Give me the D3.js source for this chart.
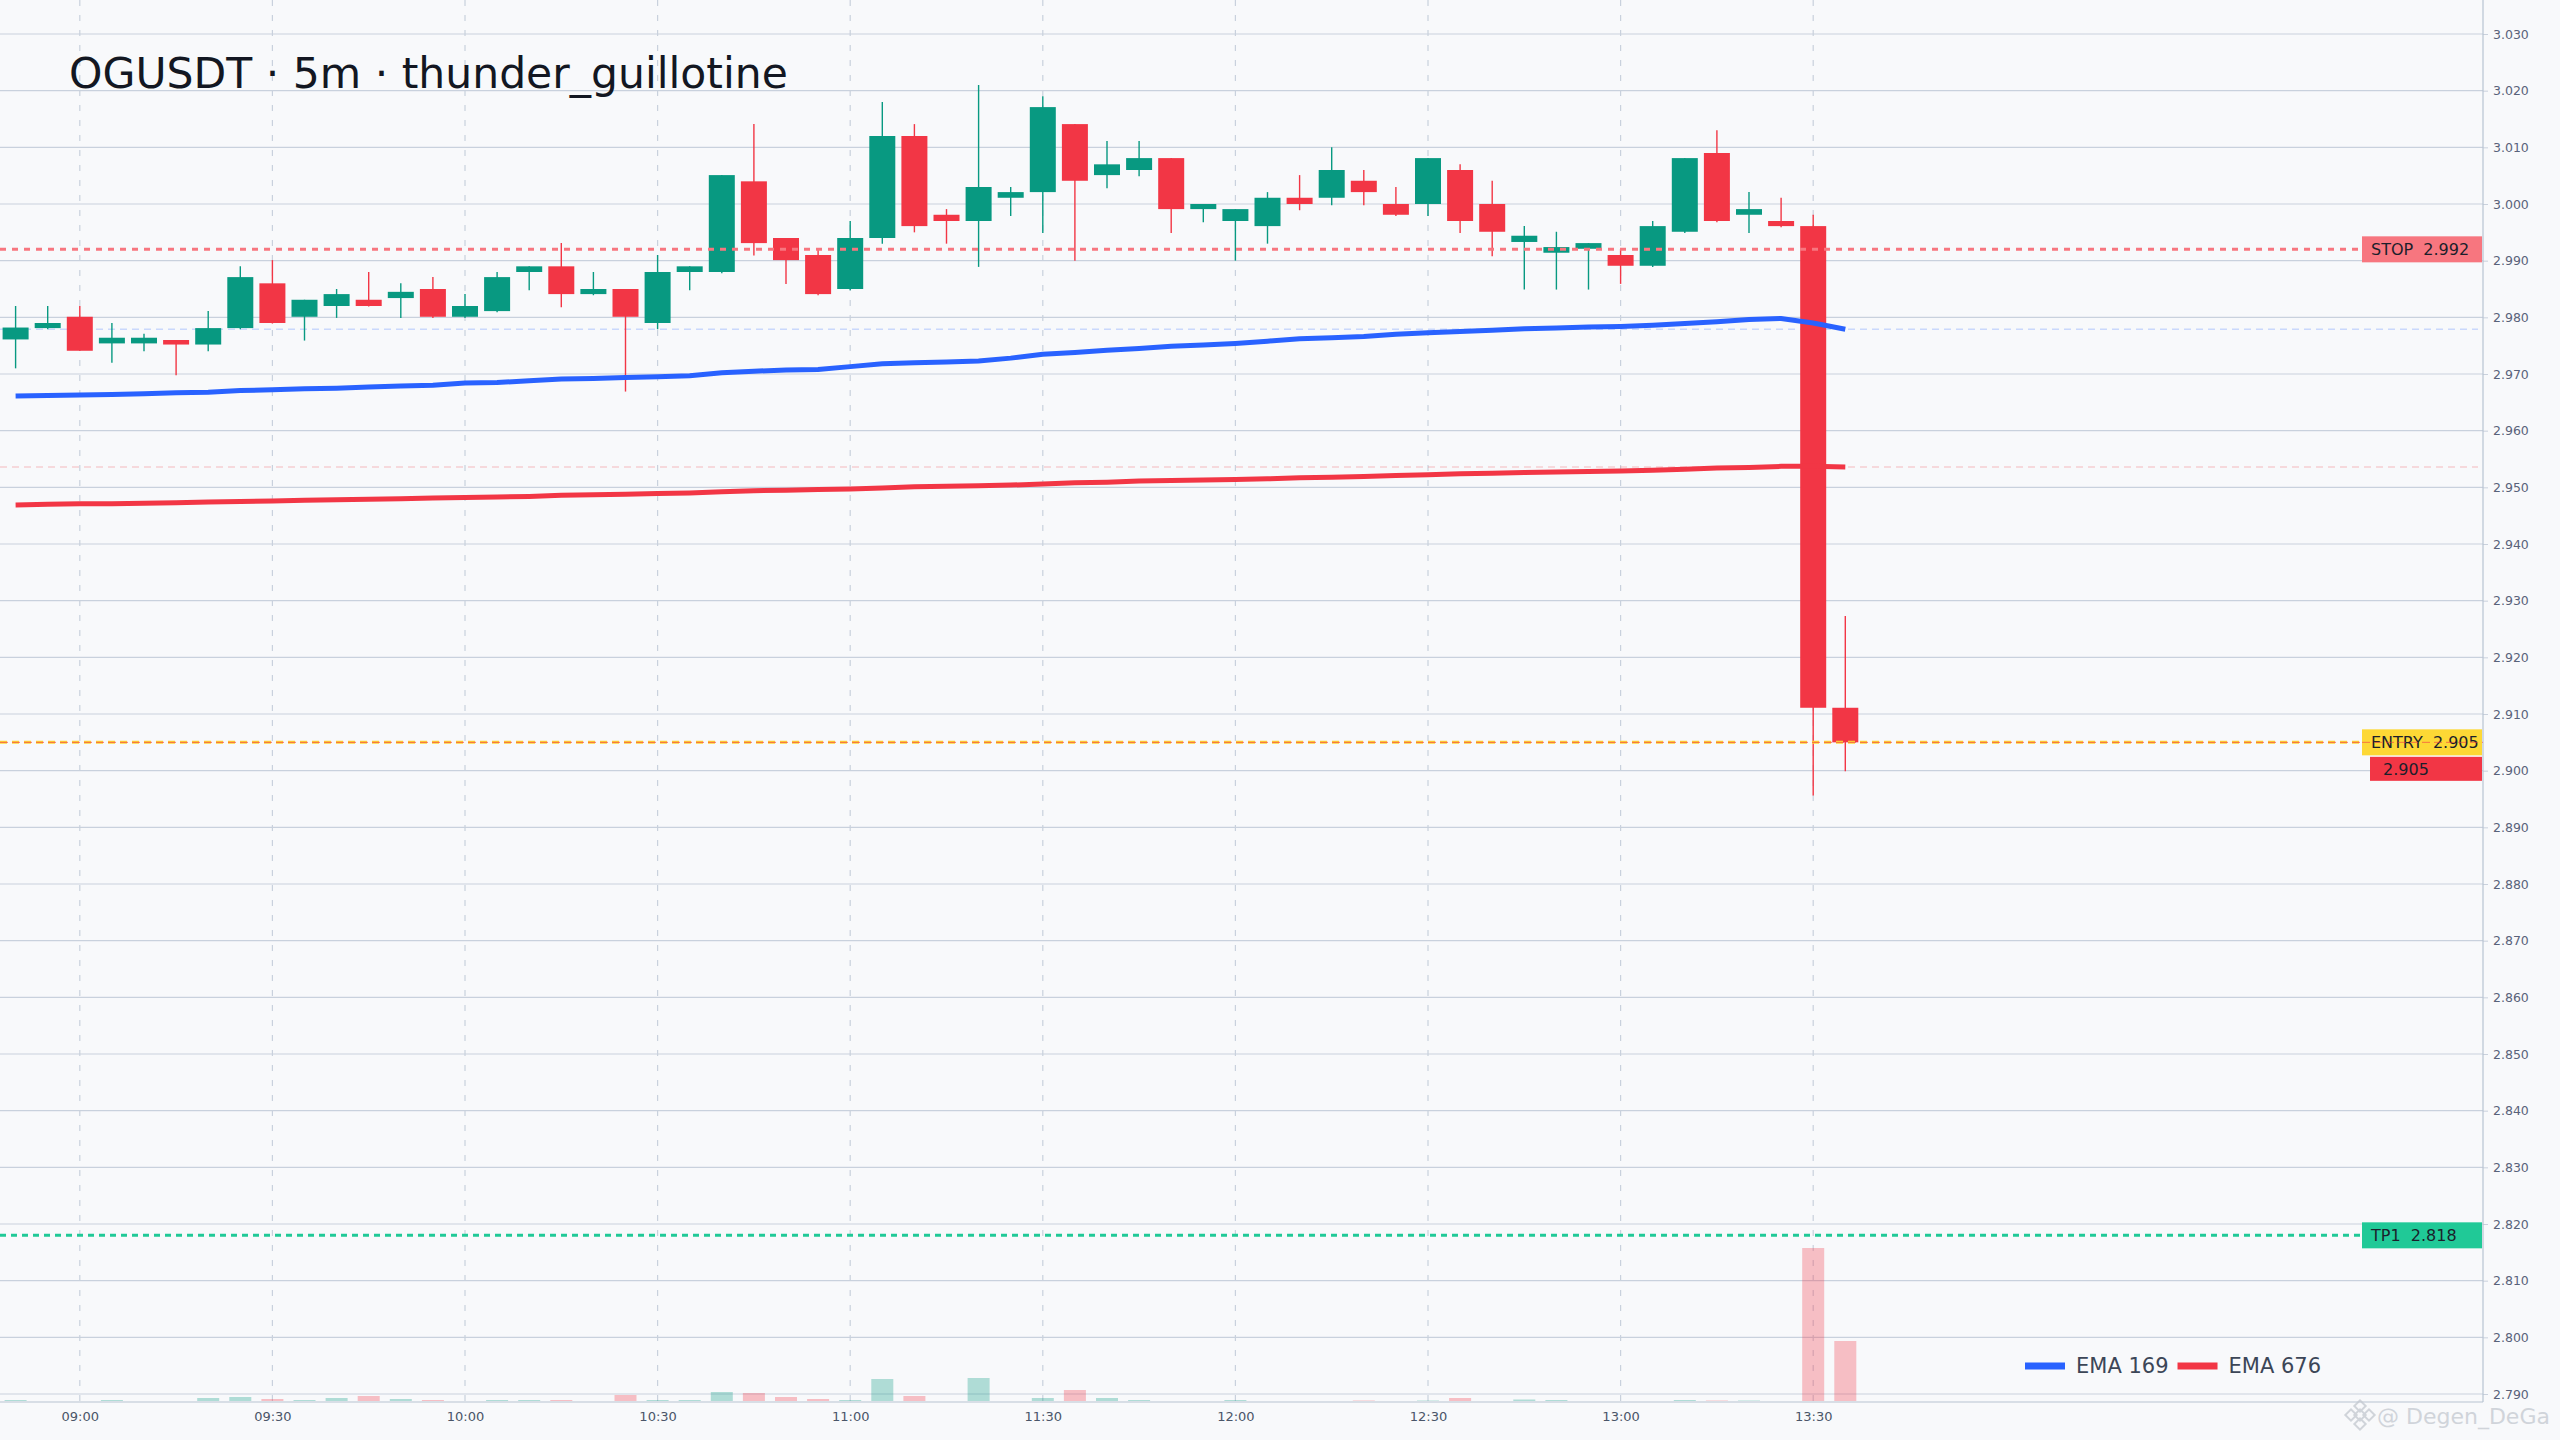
<!DOCTYPE html>
<html>
<head>
<meta charset="utf-8">
<script src="https://cdn.jsdelivr.net/npm/d3@7"></script>
<style>
  body { margin: 0; background: #f8f9fb; }
  svg { display: block; }
</style>
</head>
<body>
<div id="chart"></div>
<script>
// candle times (5m)
var times = ["08:50","08:55","09:00","09:05","09:10","09:15","09:20","09:25","09:30","09:35",
             "09:40","09:45","09:50","09:55","10:00","10:05","10:10","10:15","10:20","10:25",
             "10:30","10:35","10:40","10:45","10:50","10:55","11:00","11:05","11:10","11:15",
             "11:20","11:25","11:30","11:35","11:40","11:45","11:50","11:55","12:00","12:05",
             "12:10","12:15","12:20","12:25","12:30","12:35","12:40","12:45","12:50","12:55",
             "13:00","13:05","13:10","13:15","13:20","13:25","13:30","13:35"];

var opens  = [2.9761,2.9781,2.9801,2.9754,2.9754,2.9760,2.9752,2.9781,2.9860,2.9801,
              2.9820,2.9831,2.9834,2.9850,2.9801,2.9811,2.9880,2.9890,2.9841,2.9850,
              2.9790,2.9880,2.9880,3.0040,2.9940,2.9910,2.9850,2.9940,3.0120,2.9981,
              2.9970,3.0011,3.0021,3.0141,3.0051,3.0060,3.0081,2.9991,2.9970,2.9961,
              3.0011,3.0011,3.0041,3.0000,3.0000,3.0060,3.0000,2.9933,2.9914,2.9921,
              2.9910,2.9891,2.9951,3.0090,2.9981,2.9970,2.9961,2.9111];
var highs  = [2.9820,2.9820,2.9820,2.9790,2.9771,2.9760,2.9811,2.9890,2.9901,2.9831,
              2.9850,2.9880,2.9860,2.9871,2.9841,2.9880,2.9890,2.9931,2.9880,2.9850,
              2.9910,2.9890,3.0051,3.0141,2.9940,2.9921,2.9970,3.0180,3.0141,2.9991,
              3.0210,3.0030,3.0190,3.0141,3.0111,3.0111,3.0081,3.0000,2.9991,3.0021,
              3.0051,3.0100,3.0060,3.0030,3.0081,3.0070,3.0041,2.9961,2.9951,2.9931,
              2.9921,2.9970,3.0081,3.0130,3.0021,3.0011,2.9981,2.9273];
var lows   = [2.9710,2.9779,2.9741,2.9720,2.9740,2.9698,2.9740,2.9779,2.9789,2.9759,
              2.9799,2.9819,2.9799,2.9799,2.9799,2.9809,2.9848,2.9818,2.9839,2.9669,
              2.9779,2.9848,2.9878,2.9909,2.9859,2.9839,2.9848,2.9930,2.9950,2.9930,
              2.9889,2.9979,2.9949,2.9900,3.0028,3.0049,2.9949,2.9968,2.9900,2.9930,
              2.9989,2.9998,2.9998,2.9979,2.9979,2.9949,2.9908,2.9849,2.9849,2.9849,
              2.9859,2.9889,2.9949,2.9968,2.9949,2.9959,2.8956,2.8999];
var closes = [2.9782,2.9790,2.9741,2.9764,2.9764,2.9752,2.9781,2.9871,2.9790,2.9831,
              2.9841,2.9820,2.9845,2.9801,2.9820,2.9871,2.9890,2.9841,2.9850,2.9801,
              2.9880,2.9890,3.0051,2.9931,2.9901,2.9841,2.9940,3.0120,2.9961,2.9970,
              3.0030,3.0021,3.0171,3.0041,3.0070,3.0081,2.9991,3.0000,2.9991,3.0011,
              3.0000,3.0060,3.0021,2.9981,3.0081,2.9970,2.9951,2.9944,2.9924,2.9931,
              2.9891,2.9961,3.0081,2.9970,2.9991,2.9961,2.9111,2.9050];
var volumes = [10,0,0,10,0,0,30,40,20,10,
               30,50,20,10,0,10,10,10,0,60,
               10,10,90,80,40,20,10,220,50,0,
               230,0,30,110,30,10,0,0,10,0,
               0,0,5,0,5,30,0,15,10,0,
               0,0,10,5,5,0,1530,600];

var ema169 = [2.9661,2.9662,2.9663,2.9664,2.9665,2.9667,2.9668,2.9671,2.9672,2.9674,
              2.9675,2.9677,2.9679,2.9680,2.9684,2.9685,2.9688,2.9691,2.9692,2.9694,
              2.9695,2.9697,2.9702,2.9705,2.9707,2.9708,2.9713,2.9718,2.9720,2.9721,
              2.9723,2.9728,2.9735,2.9738,2.9742,2.9745,2.9749,2.9751,2.9754,2.9758,
              2.9762,2.9764,2.9766,2.9770,2.9773,2.9775,2.9777,2.9780,2.9781,2.9783,
              2.9784,2.9786,2.9789,2.9792,2.9796,2.9798,2.9790,2.9779];
var ema676 = [2.9469,2.9470,2.9471,2.9471,2.9472,2.9473,2.9474,2.9475,2.9476,2.9477,
              2.9478,2.9479,2.9480,2.9481,2.9482,2.9483,2.9484,2.9486,2.9487,2.9488,
              2.9489,2.9490,2.9492,2.9494,2.9495,2.9496,2.9497,2.9499,2.9501,2.9502,
              2.9503,2.9504,2.9506,2.9508,2.9509,2.9511,2.9512,2.9513,2.9514,2.9515,
              2.9517,2.9518,2.9519,2.9521,2.9522,2.9524,2.9525,2.9526,2.9527,2.9528,
              2.9529,2.9530,2.9532,2.9534,2.9535,2.9537,2.9537,2.9536];

var xTicks = ["09:00","09:30","10:00","10:30","11:00","11:30","12:00","12:30","13:00","13:30"];
var yTicks = [2.790,2.800,2.810,2.820,2.830,2.840,2.850,2.860,2.870,2.880,2.890,2.900,
              2.910,2.920,2.930,2.940,2.950,2.960,2.970,2.980,2.990,3.000,3.010,3.020,3.030];

// trade levels
var levels = [
    {name: "STOP",  value: 2.992, color: "#f7767f", dash: "6,6"},
    {name: "TP1",   value: 2.818, color: "#20c997", dash: "6,5"},
    {name: "ENTRY", value: 2.905, color: "#fdd835", dash: "7,5"}
];
var lastPrice = 2.905;

var W = 2560, H = 1440;
var plotRight = 2483, plotBottom = 1402;
var green = "#089981", red = "#f23645";

var parse = d3.timeParse("%H:%M");
var data = times.map(function(t, i) {
    return {t: parse(t), o: opens[i], h: highs[i], l: lows[i], c: closes[i], v: volumes[i]};
});

var svg = d3.select("#chart").append("svg")
    .attr("width", W)
    .attr("height", H)
    .style("font-family", "'DejaVu Sans', sans-serif");

svg.append("rect").attr("width", W).attr("height", H).attr("fill", "#f8f9fb");

// scales
var step = 32.1;
var x = d3.scaleTime()
    .domain([data[0].t, data[data.length - 1].t])
    .range([15.6, 15.6 + (data.length - 1) * step]);
var y = d3.scaleLinear().domain([2.790, 3.030]).range([1394, 34]);
var vh = d3.scaleLinear().domain([0, d3.max(volumes)]).range([0, 153]);

// grid
svg.append("g").selectAll("line").data(yTicks).enter().append("line")
    .attr("x1", 0).attr("x2", plotRight)
    .attr("y1", function(d) { return y(d); }).attr("y2", function(d) { return y(d); })
    .attr("stroke", "#c9d1dd").attr("stroke-width", 1.2);

svg.append("g").selectAll("line").data(xTicks).enter().append("line")
    .attr("x1", function(d) { return x(parse(d)); }).attr("x2", function(d) { return x(parse(d)); })
    .attr("y1", 0).attr("y2", plotBottom)
    .attr("stroke", "#c9d1dd").attr("stroke-width", 1.2)
    .attr("stroke-dasharray", "6,9");

// axes
var yAxis = svg.append("g")
    .attr("transform", "translate(" + plotRight + ",0)")
    .call(d3.axisRight(y).tickValues(yTicks).tickFormat(d3.format(".3f")).tickSize(5).tickPadding(5));
yAxis.select(".domain").remove();
yAxis.selectAll("line").attr("stroke", "#c9d1dd");
yAxis.selectAll("text").attr("fill", "#59627a").style("font-size", "12.5px")
    .style("font-family", "'DejaVu Sans', sans-serif");

svg.append("line")
    .attr("x1", plotRight).attr("x2", plotRight).attr("y1", 0).attr("y2", plotBottom)
    .attr("stroke", "#b8c3d2").attr("stroke-width", 1.2);

var xAxis = svg.append("g")
    .attr("transform", "translate(0," + plotBottom + ")")
    .call(d3.axisBottom(x).tickValues(xTicks.map(parse)).tickFormat(d3.timeFormat("%H:%M"))
        .tickSize(0).tickPadding(10));
xAxis.select(".domain").remove();
xAxis.selectAll("text").attr("fill", "#4a5568").style("font-size", "13px")
    .style("font-family", "'DejaVu Sans', sans-serif");

svg.append("line")
    .attr("x1", 0).attr("x2", plotRight).attr("y1", plotBottom).attr("y2", plotBottom)
    .attr("stroke", "#b8c3d2").attr("stroke-width", 1.2);

// volume
svg.append("g").selectAll("rect").data(data.filter(function(d) { return d.v > 0; })).enter().append("rect")
    .attr("x", function(d) { return x(d.t) - 11; })
    .attr("width", 22)
    .attr("y", function(d) { return plotBottom - 1 - vh(d.v); })
    .attr("height", function(d) { return vh(d.v); })
    .attr("fill", function(d) { return d.c >= d.o ? green : red; })
    .attr("fill-opacity", 0.3);

// ema last value lines
[{v: ema169, c: "#2962ff"}, {v: ema676, c: red}].forEach(function(e) {
    var last = e.v[e.v.length - 1];
    svg.append("line")
        .attr("x1", 0).attr("x2", plotRight - 5)
        .attr("y1", y(last)).attr("y2", y(last))
        .attr("stroke", e.c).attr("stroke-opacity", 0.22)
        .attr("stroke-width", 1.5).attr("stroke-dasharray", "7,5");
});

// candles
var candles = svg.append("g").selectAll("g").data(data).enter().append("g");
candles.append("line")
    .attr("x1", function(d) { return x(d.t); }).attr("x2", function(d) { return x(d.t); })
    .attr("y1", function(d) { return y(d.h); }).attr("y2", function(d) { return y(d.l); })
    .attr("stroke", function(d) { return d.c >= d.o ? green : red; })
    .attr("stroke-width", 1.4);
candles.append("rect")
    .attr("x", function(d) { return x(d.t) - 13; })
    .attr("width", 26)
    .attr("y", function(d) { return y(Math.max(d.o, d.c)); })
    .attr("height", function(d) { return Math.max(2, Math.abs(y(d.o) - y(d.c))); })
    .attr("fill", function(d) { return d.c >= d.o ? green : red; });

// EMA lines
var line = d3.line()
    .x(function(d, i) { return x(data[i].t); })
    .y(function(d) { return y(d); });
svg.append("path").datum(ema676).attr("d", line)
    .attr("fill", "none").attr("stroke", red).attr("stroke-width", 5);
svg.append("path").datum(ema169).attr("d", line)
    .attr("fill", "none").attr("stroke", "#2962ff").attr("stroke-width", 5);

// level lines
levels.forEach(function(l) {
    svg.append("line")
        .attr("x1", 0).attr("x2", 2362)
        .attr("y1", y(l.value)).attr("y2", y(l.value))
        .attr("stroke", l.color).attr("stroke-width", 3)
        .attr("stroke-dasharray", l.dash);
});
// current price line
svg.append("line")
    .attr("x1", 0).attr("x2", plotRight)
    .attr("y1", y(lastPrice)).attr("y2", y(lastPrice))
    .attr("stroke", red).attr("stroke-opacity", 0.7).attr("stroke-width", 1)
    .attr("stroke-dasharray", "8,4");

// level labels
levels.forEach(function(l) {
    var g = svg.append("g");
    g.append("rect")
        .attr("x", 2362).attr("width", plotRight - 1 - 2362)
        .attr("y", y(l.value) - 13).attr("height", 26)
        .attr("fill", l.color);
    g.append("text")
        .attr("x", 2371).attr("y", y(l.value))
        .attr("dy", "0.36em")
        .attr("fill", "#1b1f2b").style("font-size", "16px")
        .attr("xml:space", "preserve")
        .text(l.name + "  " + d3.format(".3f")(l.value));
});
// price line overlays the entry label
svg.append("line")
    .attr("x1", 2362).attr("x2", plotRight)
    .attr("y1", y(lastPrice)).attr("y2", y(lastPrice))
    .attr("stroke", red).attr("stroke-opacity", 0.6).attr("stroke-width", 1)
    .attr("stroke-dasharray", "8,4");

// last price tag sits below the entry tag
svg.append("rect")
    .attr("x", 2370).attr("width", plotRight - 1 - 2370)
    .attr("y", y(lastPrice) + 14.5).attr("height", 24)
    .attr("fill", red);
svg.append("text")
    .attr("x", 2383).attr("y", y(lastPrice) + 26.5)
    .attr("dy", "0.36em")
    .attr("fill", "#1b1f2b").style("font-size", "16px")
    .text(d3.format(".3f")(lastPrice));

// title
svg.append("text")
    .attr("x", 69).attr("y", 88)
    .attr("fill", "#131722").style("font-size", "42.5px")
    .text("OGUSDT · 5m · thunder_guillotine");

// legend
var legend = [{name: "EMA 169", color: "#2962ff"}, {name: "EMA 676", color: red}];
var lg = svg.append("g").attr("transform", "translate(2025,1366)");
var lx = 0;
legend.forEach(function(d) {
    lg.append("rect").attr("x", lx).attr("y", -3.5).attr("width", 40).attr("height", 7).attr("fill", d.color);
    var t = lg.append("text").attr("x", lx + 51).attr("y", 0).attr("dy", "0.35em")
        .attr("fill", "#3c4657").style("font-size", "21px").text(d.name);
    lx += 51 + t.node().getComputedTextLength() + 9;
});

// watermark
var wm = svg.append("g").attr("opacity", 0.75);
var logo = wm.append("g").attr("transform", "translate(2360,1415)")
    .attr("fill", "none").attr("stroke", "#c3c8d0").attr("stroke-width", 2);
[[0, -9], [-9, 0], [9, 0], [0, 9], [0, 0]].forEach(function(p) {
    logo.append("rect").attr("x", p[0] - 4).attr("y", p[1] - 4).attr("width", 8).attr("height", 8)
        .attr("transform", "rotate(45," + p[0] + "," + p[1] + ")");
});
wm.append("text")
    .attr("x", 2377).attr("y", 1424)
    .attr("fill", "#c3c8d0").style("font-size", "22px")
    .text("@ Degen_DeGa");
</script>
</body>
</html>
